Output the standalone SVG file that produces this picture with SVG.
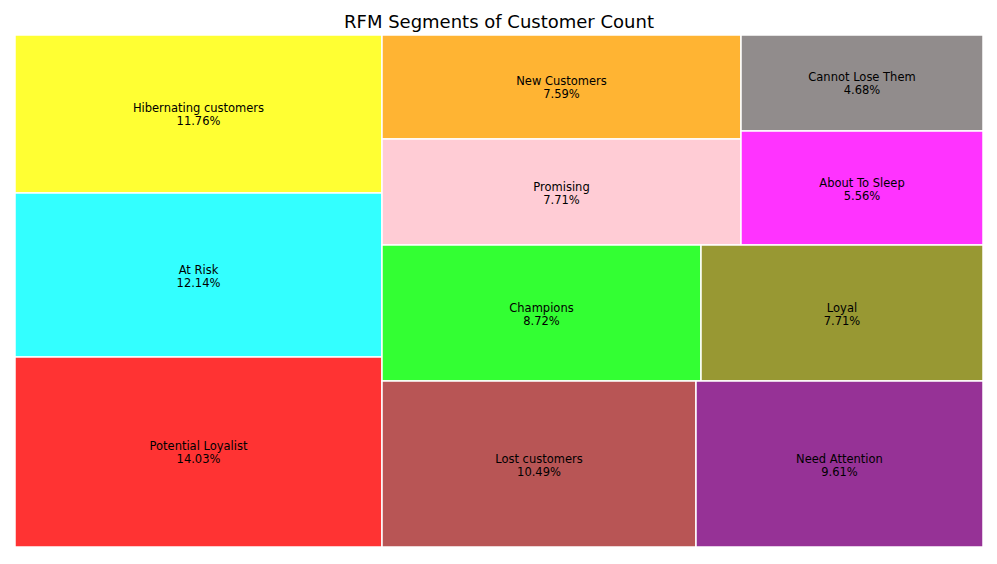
<svg xmlns="http://www.w3.org/2000/svg" width="997" height="564" viewBox="0 0 997 564">
<style>
rect.t{stroke:#fff;stroke-width:1.5}
text{font-family:"DejaVu Sans",sans-serif;font-size:11.5px;text-anchor:middle;fill:#000}
.title{font-size:18px}
</style>
<rect width="997" height="564" fill="#fff"/>
<text class="title" x="499" y="28">RFM Segments of Customer Count</text>
<g id="hibernating"><rect class="t" x="15" y="35" width="367" height="158" fill="#ffff33"/><text x="198.5" y="112">Hibernating customers</text><text x="198.5" y="124.5">11.76%</text></g>
<g id="atrisk"><rect class="t" x="15" y="193" width="367" height="164" fill="#33ffff"/><text x="198.5" y="274">At Risk</text><text x="198.5" y="286.5">12.14%</text></g>
<g id="potential"><rect class="t" x="15" y="357" width="367" height="190" fill="#ff3333"/><text x="198.5" y="450">Potential Loyalist</text><text x="198.5" y="462.5">14.03%</text></g>
<g id="new"><rect class="t" x="382" y="35" width="359" height="104" fill="#ffb433"/><text x="561.5" y="85">New Customers</text><text x="561.5" y="97.5">7.59%</text></g>
<g id="promising"><rect class="t" x="382" y="139" width="359" height="106" fill="#ffccd5"/><text x="561.5" y="191">Promising</text><text x="561.5" y="203.5">7.71%</text></g>
<g id="cannotlose"><rect class="t" x="741" y="35" width="242" height="96" fill="#918c8c"/><text x="862" y="81">Cannot Lose Them</text><text x="862" y="93.5">4.68%</text></g>
<g id="abouttosleep"><rect class="t" x="741" y="131" width="242" height="114" fill="#ff33ff"/><text x="862" y="187">About To Sleep</text><text x="862" y="199.5">5.56%</text></g>
<g id="champions"><rect class="t" x="382" y="245" width="319" height="136" fill="#33ff33"/><text x="541.5" y="312">Champions</text><text x="541.5" y="324.5">8.72%</text></g>
<g id="loyal"><rect class="t" x="701" y="245" width="282" height="136" fill="#989833"/><text x="842" y="312">Loyal</text><text x="842" y="324.5">7.71%</text></g>
<g id="lost"><rect class="t" x="382" y="381" width="314" height="166" fill="#b85555"/><text x="539" y="463">Lost customers</text><text x="539" y="475.5">10.49%</text></g>
<g id="needattention"><rect class="t" x="696" y="381" width="287" height="166" fill="#963296"/><text x="839.5" y="463">Need Attention</text><text x="839.5" y="475.5">9.61%</text></g>
<g id="connectors"></g>
</svg>
